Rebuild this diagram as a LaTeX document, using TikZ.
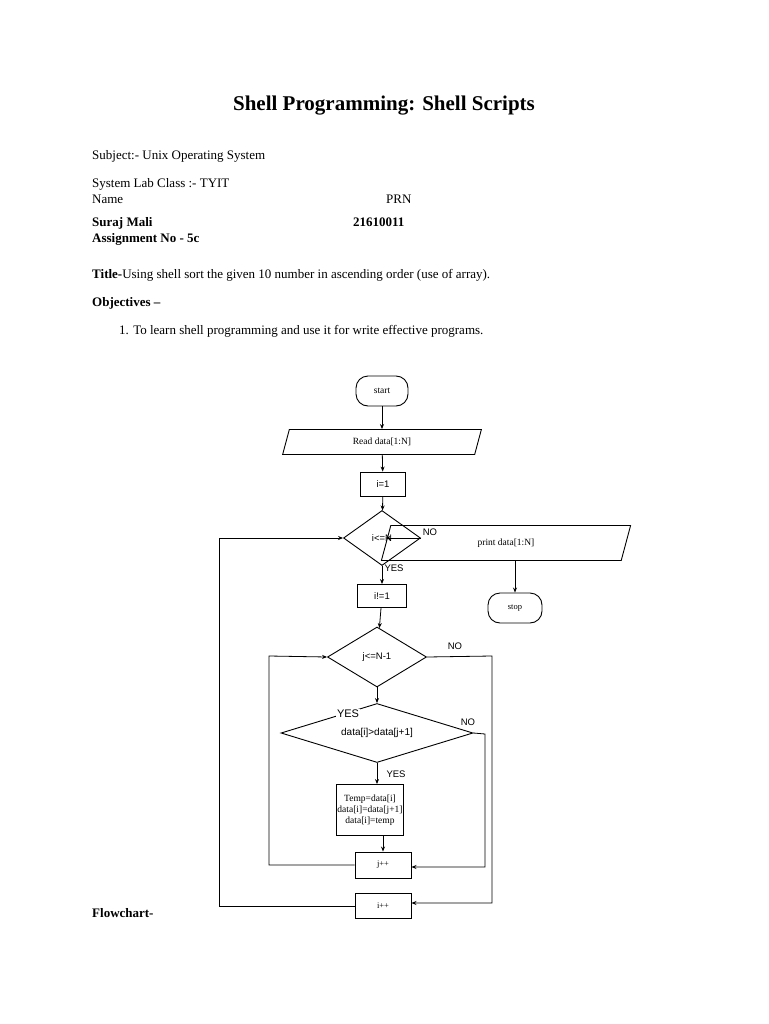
\documentclass[tikz,border=0pt]{standalone}
\usepackage{fontspec}
\setmainfont{Liberation Serif}
\newfontfamily\sansf{Liberation Sans}
\usetikzlibrary{shapes.geometric,arrows.meta}
\begin{document}
\begin{tikzpicture}[x=1pt,y=-1pt,
 txt/.style={anchor=base west,inner sep=0pt,font=\fontsize{13}{15}\selectfont},
 bx/.style={draw,line width=0.9pt,inner sep=0pt,font=\fontsize{9.5}{11}\selectfont},
 lab/.style={inner sep=1pt,font=\sansf\fontsize{9.5}{11}\selectfont},
 ar/.style={-{Stealth[length=5pt,width=4pt]},line width=0.8pt},
 ln/.style={line width=0.8pt}]
\useasboundingbox (0,0) rectangle (768,1024);
\node[anchor=base,inner sep=0pt,font=\bfseries\fontsize{21}{24}\selectfont] (ttl) at (384,111) {Shell Programming: Shell Scripts};
\node[txt] (s1) at (92,160) {Subject:- Unix Operating System};
\node[txt] (s2) at (92,188) {System Lab Class :- TYIT};
\node[txt] (s3) at (92,204) {Name};
\node[txt] (s4) at (386,204) {PRN};
\node[txt,font=\bfseries\fontsize{13}{15}\selectfont] (s5) at (92,226) {Suraj Mali};
\node[txt,font=\bfseries\fontsize{13}{15}\selectfont] (s6) at (353,226) {21610011};
\node[txt,font=\bfseries\fontsize{13}{15}\selectfont] (s7) at (92,243) {Assignment No - 5c};
\node[txt] (s8) at (92,278) {\textbf{Title-}Using shell sort the given 10 number in ascending order (use of array).};
\node[txt,font=\bfseries\fontsize{13}{15}\selectfont] (s9) at (92,306) {Objectives --};
\node[txt] (s10) at (119,334) {1. To learn shell programming and use it for write effective programs.};
\node[txt,font=\bfseries\fontsize{13}{15}\selectfont] (s11) at (92,917) {Flowchart-};
% flowchart
\node[bx,rounded corners=12pt,minimum width=52pt,minimum height=30pt] (start) at (382,391) {start};
\node[bx,trapezium,trapezium left angle=75,trapezium right angle=105,minimum width=100pt,minimum height=25pt] (read) at (382,442) {Read data[1:N]};
\node[bx,minimum width=45pt,minimum height=24pt,font=\sansf\fontsize{9.5}{11}\selectfont] (i1) at (383,484) {i=1};
\node[bx,diamond,aspect=1.4,minimum width=77pt,minimum height=55pt,font=\sansf\fontsize{9.5}{11}\selectfont] (d1) at (382,538) {i<=N};
\node[bx,trapezium,trapezium left angle=75,trapezium right angle=105,minimum width=110pt,minimum height=35pt] (print) at (506,543) {print data[1:N]};
\node[bx,rounded corners=12pt,minimum width=54pt,minimum height=30pt,font=\fontsize{8.5}{10}\selectfont] (stop) at (515,608) {stop};
\node[bx,minimum width=49pt,minimum height=23pt,font=\sansf\fontsize{9.5}{11}\selectfont] (ine) at (382,596) {i!=1};
\node[bx,diamond,aspect=1.65,minimum width=99pt,minimum height=60pt,font=\sansf\fontsize{9.5}{11}\selectfont] (d2) at (377,657) {j<=N-1};
\node[bx,diamond,aspect=6.6,minimum width=192pt,minimum height=59pt,font=\sansf\fontsize{10}{12}\selectfont] (d3) at (377,733) {data[i]>data[j+1]};
\node[bx,minimum width=67pt,minimum height=51pt,align=center,font=\fontsize{9.5}{11}\selectfont] (tmp) at (370,810) {Temp=data[i]\\data[i]=data[j+1]\\data[i]=temp};
\node[bx,minimum width=56pt,minimum height=26pt,font=\fontsize{8.5}{10}\selectfont] (jpp) at (383,865) {j++};
\node[bx,minimum width=56pt,minimum height=25pt,font=\fontsize{8.5}{10}\selectfont] (ipp) at (383,906) {i++};
\coordinate (c1) at (219,906);
\coordinate (c2) at (219,538);
\coordinate (c3) at (269,865);
\coordinate (c4) at (269,656);
\coordinate (c5) at (492,656);
\coordinate (c6) at (492,903);
\coordinate (c7) at (485,734);
\coordinate (c8) at (485,867);
\draw[ar] (start) -- (read);
\draw[ar] (read) -- (i1);
\draw[ar] (i1) -- (d1);
\draw[ar] (d1.east) -- (print.west|-d1.east);
\draw[ar] (print.south-|stop) -- (stop);
\draw[ar] (d1) -- (ine);
\draw[ar] (ine) -- (d2);
\draw[ar] (d2) -- (d3);
\draw[ar] (d3.south) -- (d3.south|-tmp.north);
\draw[ar] (tmp.south-|jpp) -- (jpp);
\draw[ar] (ipp.west) -- (c1) -- (c2) -- (d1.west);
\draw[ar] (jpp.west) -- (c3) -- (c4) -- (d2.west);
\draw[ar] (d2.east) -- (c5) -- (c6) -- (ipp.east|-c6);
\draw[ar] (d3.east) -- (c7) -- (c8) -- (jpp.east|-c8);
\node[lab] (l1) at (430,532) {NO};
\node[lab] (l2) at (394,568) {YES};
\node[lab] (l3) at (455,646) {NO};
\node[lab,fill=white,font=\sansf\fontsize{11}{13}\selectfont] (l4) at (348,714) {YES};
\node[lab] (l5) at (468,722) {NO};
\node[lab] (l6) at (396,774) {YES};
\end{tikzpicture}
\end{document}
